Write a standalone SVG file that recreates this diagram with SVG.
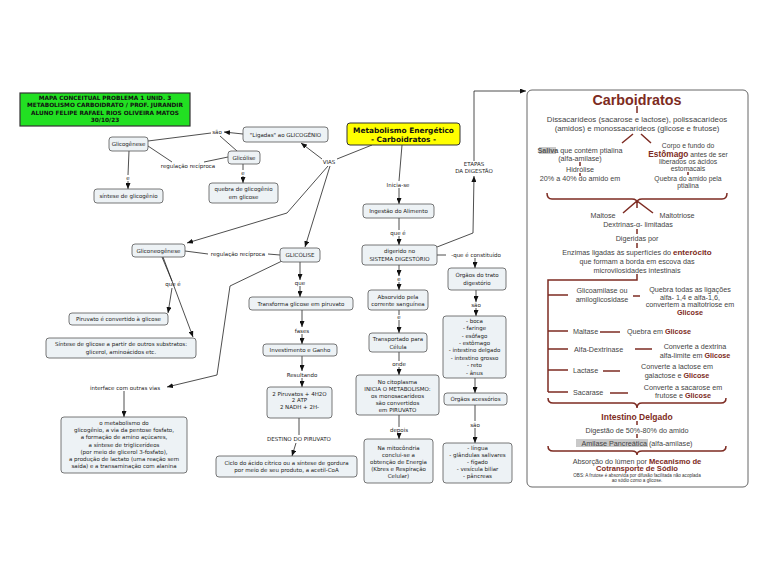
<svg xmlns="http://www.w3.org/2000/svg" width="768" height="578" viewBox="0 0 768 578">
<defs>
<marker id="ar" markerUnits="userSpaceOnUse" markerWidth="6" markerHeight="5" refX="6" refY="2.5" orient="auto"><path d="M0,0 L6,2.5 L0,5 z" fill="#111"/></marker>
<style>
.n{fill:#edf2f5;stroke:#555;stroke-width:0.8}
.t{font-family:"DejaVu Sans",Verdana,sans-serif;font-size:5.5px;fill:#222;text-anchor:middle}
.l{font-family:"DejaVu Sans",Verdana,sans-serif;font-size:5.5px;fill:#222;text-anchor:middle}
.c{stroke:#222;stroke-width:0.8;fill:none}
.ca{stroke:#222;stroke-width:0.8;fill:none;marker-end:url(#ar)}
.r{font-family:"Liberation Sans",Arial,sans-serif;font-size:7.2px;fill:#444;text-anchor:middle}
.rs{font-family:"Liberation Sans",Arial,sans-serif;font-size:7.2px;fill:#444;text-anchor:start}
.red{fill:#7d2b22;font-weight:bold}
.br{stroke:#7d2b22;stroke-width:1.5;fill:none}
</style>
</defs>
<rect width="768" height="578" fill="#fff"/>

<g id="title">
<rect x="20" y="93" width="170" height="33" fill="#22e022" stroke="#333" stroke-width="1.2"/>
<g font-family="DejaVu Sans,Verdana,sans-serif" font-size="5.8" font-weight="bold" fill="#111" text-anchor="middle">
<text x="105" y="100">MAPA CONCEITUAL PROBLEMA 1 UNID. 3</text>
<text x="105" y="107.3">METABOLISMO CARBOIDRATO / PROF. JURANDIR</text>
<text x="105" y="114.6">ALUNO FELIPE RAFAEL RIOS OLIVEIRA MATOS</text>
<text x="105" y="122">30/10/23</text>
</g>
</g>

<g id="connectors">
<path class="ca" d="M243,134 L224,132"/>
<path class="c" d="M211,133 L148,141"/>
<path class="c" d="M220,136 L237,151"/>
<path class="c" d="M148,146 L172,162"/>
<path class="c" d="M204,162 L228,157"/>
<path class="c" d="M129,151 L128,175"/>
<path class="ca" d="M128,181 L128,189"/>
<path class="c" d="M243,164 L243,170"/>
<path class="ca" d="M243,176 L243,183"/>
<path class="c" d="M372,145 L337,159"/>
<path class="ca" d="M322,159 L301,143"/>
<path class="ca" d="M328,166 L287,213 L187,243"/>
<path class="ca" d="M330,166 L305,247"/>
<path class="c" d="M402,145 L399,181"/>
<path class="ca" d="M399,188 L399,204"/>
<path class="c" d="M399,218 L399,230"/>
<path class="ca" d="M399,236 L399,245"/>
<path class="ca" d="M437,247 L473,233 L474,176"/>
<path class="ca" d="M474,161 L474,91 L526,91"/>
<path class="c" d="M437,255 L446,255"/>
<path class="ca" d="M475,258 L475,268"/>
<path class="ca" d="M476,290 L476,302"/>
<path class="ca" d="M476,308 L476,316"/>
<path class="ca" d="M475,378 L475,393"/>
<path class="c" d="M475,405 L475,421"/>
<path class="ca" d="M475,428 L475,443"/>
<path class="ca" d="M399,265 L399,276"/>
<path class="ca" d="M399,282 L399,290"/>
<path class="c" d="M399,310 L399,315"/>
<path class="ca" d="M399,320 L399,333"/>
<path class="c" d="M399,352 L399,361"/>
<path class="ca" d="M399,367 L399,375"/>
<path class="c" d="M399,415 L399,427"/>
<path class="ca" d="M399,433 L399,439"/>
<path class="ca" d="M300,262 L300,280"/>
<path class="ca" d="M300,286 L300,297"/>
<path class="ca" d="M302,310 L302,327"/>
<path class="ca" d="M302,334 L302,344"/>
<path class="ca" d="M302,356 L302,371"/>
<path class="ca" d="M302,378 L302,387"/>
<path class="c" d="M299,418 L299,435"/>
<path class="ca" d="M296,443 L292,456"/>
<path class="c" d="M185,251 L208,254"/>
<path class="c" d="M268,254 L280,255"/>
<path class="c" d="M162,257 L172,281"/>
<path class="ca" d="M172,288 L168,313"/>
<path class="ca" d="M163,257 L193,337"/>
<path class="ca" d="M282,261 L230,286 L217,375 L167,387"/>
<path class="ca" d="M124,391 L124,417"/>
</g>

<g id="labels">
<text class="l" x="217" y="134">são</text>
<text class="l" x="188" y="168">regulação recíproca</text>
<text class="l" x="128" y="180">e</text>
<text class="l" x="243" y="175">e</text>
<text class="l" x="329" y="164">VIAS</text>
<text class="l" x="398" y="187">Inicia-se</text>
<text class="l" x="398" y="235">que é</text>
<text class="l" x="474" y="166">ETAPAS</text>
<text class="l" x="474" y="173">DA DIGESTÃO</text>
<text class="l" x="476" y="257">-que é constituído</text>
<text class="l" x="399" y="281">e</text>
<text class="l" x="476" y="307">são</text>
<text class="l" x="399" y="319">e</text>
<text class="l" x="399" y="366">onde</text>
<text class="l" x="475" y="427">são</text>
<text class="l" x="399" y="432">depois</text>
<text class="l" x="300" y="285">que</text>
<text class="l" x="302" y="333">fases</text>
<text class="l" x="302" y="377">Resultando</text>
<text class="l" x="299" y="441">DESTINO DO PIRUVATO</text>
<text class="l" x="238" y="256">regulação recíproca</text>
<text class="l" x="173" y="286">que é</text>
<text class="l" x="125" y="390">interface com outras vias</text>
</g>

<g id="glicogenese"><rect class="n" x="109" y="137" width="39" height="14" rx="3"/><text class="t" x="128.5" y="146">Glicogênese</text></g>
<g id="ligadas"><rect class="n" x="243" y="127" width="85" height="15" rx="3"/><text class="t" x="285.5" y="136.5">"Ligadas" ao GLICOGÊNIO</text></g>
<g id="glicolise"><rect class="n" x="228" y="151" width="32" height="13" rx="3"/><text class="t" x="244" y="159.5">Glicólise</text></g>
<g id="sintese-glicogenio"><rect class="n" x="94" y="189" width="69" height="14" rx="3"/><text class="t" x="128.5" y="198">síntese de glicogênio</text></g>
<g id="quebra"><rect class="n" x="209" y="183" width="69" height="20" rx="3"/><text class="t" x="243.5" y="191">quebra de glicogênio</text><text class="t" x="243.5" y="198.5">em glicose</text></g>
<g id="metabolismo"><rect x="347" y="123" width="113" height="22" rx="3" fill="#ffff00" stroke="#333" stroke-width="1"/>
<g font-family="DejaVu Sans,Verdana,sans-serif" font-size="7.4" font-weight="bold" fill="#111" text-anchor="middle"><text x="403.5" y="133">Metabolismo Energético</text><text x="403.5" y="142">- Carboidratos -</text></g></g>
<g id="ingestao"><rect class="n" x="363" y="204" width="71" height="14" rx="3"/><text class="t" x="398.5" y="213">Ingestão do Alimento</text></g>
<g id="digerido"><rect class="n" x="362" y="245" width="75" height="20" rx="3"/><text class="t" x="399.5" y="253">digerido no</text><text class="t" x="399.5" y="260.5">SISTEMA DIGESTÓRIO</text></g>
<g id="orgaos-trato"><rect class="n" x="448" y="268" width="58" height="22" rx="3"/><text class="t" x="477" y="277">Órgãos do trato</text><text class="t" x="477" y="284.5">digestório</text></g>
<g id="lista-trato"><rect class="n" x="443" y="316" width="63" height="62" rx="3"/>
<text class="t" x="474.5" y="323">- boca</text><text class="t" x="474.5" y="330.4">- faringe</text><text class="t" x="474.5" y="337.7">- esôfago</text><text class="t" x="474.5" y="345.1">- estômago</text><text class="t" x="474.5" y="352.4">- intestino delgado</text><text class="t" x="474.5" y="359.8">- intestino grosso</text><text class="t" x="474.5" y="367.1">- reto</text><text class="t" x="474.5" y="374.5">- ânus</text></g>
<g id="acessorios"><rect class="n" x="444" y="393" width="63" height="12" rx="3"/><text class="t" x="475.5" y="401">Órgãos acessórios</text></g>
<g id="lista-acessorios"><rect class="n" x="443" y="443" width="69" height="40" rx="3"/>
<text class="t" x="477.5" y="450">- língua</text><text class="t" x="477.5" y="457">- glândulas salivares</text><text class="t" x="477.5" y="464">- fígado</text><text class="t" x="477.5" y="471">- vesícula biliar</text><text class="t" x="477.5" y="478">- pâncreas</text></g>
<g id="absorvido"><rect class="n" x="368" y="290" width="60" height="20" rx="3"/><text class="t" x="398" y="298.5">Absorvido pela</text><text class="t" x="398" y="306">corrente sanguínea</text></g>
<g id="transportado"><rect class="n" x="369" y="333" width="58" height="19" rx="3"/><text class="t" x="398" y="341">Transportado para</text><text class="t" x="398" y="348.5">Célula</text></g>
<g id="citoplasma"><rect class="n" x="356" y="375" width="83" height="40" rx="3"/>
<text class="t" x="397.5" y="383.5">No citoplasma</text><text class="t" x="397.5" y="390.5">INICIA O METABOLISMO:</text><text class="t" x="397.5" y="397.5">os monosacarídeos</text><text class="t" x="397.5" y="404.5">são convertidos</text><text class="t" x="397.5" y="411.5">em PIRUVATO</text></g>
<g id="mitocondria"><rect class="n" x="364" y="439" width="69" height="44" rx="3"/>
<text class="t" x="398.5" y="450">Na mitocôndria</text><text class="t" x="398.5" y="457">conclui-se a</text><text class="t" x="398.5" y="464">obtenção de Energia</text><text class="t" x="398.5" y="471">(Kbres e Respiração</text><text class="t" x="398.5" y="478">Celular)</text></g>
<g id="glicolise2"><rect class="n" x="280" y="248" width="40" height="14" rx="3"/><text class="t" x="300" y="257">GLICÓLISE</text></g>
<g id="transforma"><rect class="n" x="249" y="297" width="104" height="13" rx="3"/><text class="t" x="301" y="305.5">Transforma glicose em piruvato</text></g>
<g id="investimento"><rect class="n" x="263" y="344" width="74" height="12" rx="3"/><text class="t" x="300" y="352">Investimento e Ganho</text></g>
<g id="piruvatos"><rect class="n" x="267" y="387" width="65" height="31" rx="3"/><text class="t" x="299.5" y="395.5">2 Piruvatos + 4H2O</text><text class="t" x="299.5" y="402">2 ATP</text><text class="t" x="299.5" y="408.5">2 NADH + 2H-</text></g>
<g id="ciclo"><rect class="n" x="216" y="456" width="141" height="21" rx="3"/><text class="t" x="286.5" y="464.5">Ciclo do ácido cítrico ou a síntese de gordura</text><text class="t" x="286.5" y="472">por meio de seu produto, a acetil-CoA</text></g>
<g id="gliconeogenese"><rect class="n" x="132" y="244" width="53" height="13" rx="3"/><text class="t" x="158.5" y="252.5">Gliconeogênese</text></g>
<g id="piruvato-convertido"><rect class="n" x="69" y="313" width="99" height="12" rx="3"/><text class="t" x="118.5" y="321">Piruvato é convertido à glicose</text></g>
<g id="sintese-glicose"><rect class="n" x="46" y="338" width="150" height="20" rx="3"/><text class="t" x="121" y="346">Síntese de glicose a partir de outros substratos:</text><text class="t" x="121" y="353.5">glicerol, aminoácidos etc.</text></g>
<g id="interface"><rect class="n" x="61" y="417" width="126" height="56" rx="3"/>
<text class="t" x="124" y="425">o metabolismo do</text><text class="t" x="124" y="432.2">glicogênio, a via da pentose fosfato,</text><text class="t" x="124" y="439.4">a formação de amino açúcares,</text><text class="t" x="124" y="446.6">a síntese de triglicerídeos</text><text class="t" x="124" y="453.8">(por meio de glicerol 3-fosfato),</text><text class="t" x="124" y="461">a produção de lactato (uma reação sem</text><text class="t" x="124" y="468.2">saída) e a transaminação com alanina</text></g>

<g id="carboidratos">
<rect x="527" y="90" width="221" height="397" rx="5" fill="#fff" stroke="#666" stroke-width="1"/>
<text x="637" y="105" font-family="Liberation Sans,Arial,sans-serif" font-size="14.3" font-weight="bold" fill="#7d2b22" text-anchor="middle">Carboidratos</text>
<path class="br" d="M637,106 L637,113"/>
<text class="r" x="637" y="121.5" style="font-size:7.8px">Dissacarídeos (sacarose e lactose), polissacarídeos</text>
<text class="r" x="637" y="131" style="font-size:7.8px">(amidos) e monossacarídeos (glicose e frutose)</text>
<path class="br" d="M633,134 L622,143 M641,134 L651,143"/>
<rect x="539" y="147" width="17" height="7" fill="#c9c9c9"/>
<text class="r" x="580" y="153"><tspan font-weight="bold" fill="#555">Saliva</tspan> que contém ptialina</text>
<text class="r" x="580" y="160.5">(alfa-amilase)</text>
<path class="br" d="M580,162 L580,166"/>
<text class="r" x="580" y="171.5">Hidrólise</text>
<path class="br" d="M580,173 L580,176"/>
<text class="r" x="580" y="181">20% a 40% do amido em</text>
<text class="r" x="688" y="148" style="font-size:6.8px">Corpo e fundo do</text>
<text class="r" x="688" y="156.5" style="font-size:6.8px"><tspan class="red" style="font-size:8.3px">Estômago</tspan> antes de ser</text>
<text class="r" x="688" y="163.7" style="font-size:6.8px">liberados os ácidos</text>
<text class="r" x="688" y="170.5" style="font-size:6.8px">estomacais</text>
<path class="br" d="M688,172 L688,175"/>
<text class="r" x="688" y="180.5" style="font-size:6.8px">Quebra do amido pela</text>
<text class="r" x="688" y="187.5" style="font-size:6.8px">ptialina</text>
<path class="br" d="M547,193 Q547,199 552,199 L632,199 Q637,199 637,203 Q637,199 642,199 L722,199 Q727,199 727,193"/>
<path class="br" d="M623,213 L637,201 L653,213 M637,201 L637,208"/>
<text class="r" x="603" y="218">Maltose</text>
<text class="r" x="677" y="218">Maltotriose</text>
<text class="r" x="638" y="226.5">Dextrinas-α- limitadas</text>
<path class="br" d="M637,229 L637,234"/>
<text class="r" x="637" y="240.5">Digeridas por</text>
<path class="br" d="M637,243 L637,248"/>
<text class="r" x="637" y="255">Enzimas ligadas às superfícies do <tspan class="red" style="font-size:8px">enterócito</tspan></text>
<text class="r" x="637" y="264">que formam a borda em escova das</text>
<text class="r" x="637" y="273">microvilosidades intestinais</text>
<path class="br" d="M637,274 L637,280 L548,280 L548,392 M548,295 L568,295 M548,331 L568,331 M548,349 L568,349 M548,370 L568,370 M548,392 L568,392"/>
<text class="r" x="602" y="293">Glicoamilase ou</text>
<text class="r" x="602" y="301.5">amiloglicosidase</text>
<path class="br" d="M633,296 L640,296"/>
<text class="r" x="690" y="292">Quebra todas as ligações</text>
<text class="r" x="690" y="299.5">alfa- 1,4 e alfa-1,6,</text>
<text class="r" x="690" y="307">convertem a maltotriose em</text>
<text class="r red" x="690" y="315">Glicose</text>
<text class="rs" x="573" y="333.5">Maltase</text>
<path class="br" d="M600,332 L620,332"/>
<text class="rs" x="627" y="333.5">Quebra em <tspan class="red">Glicose</tspan></text>
<text class="rs" x="574" y="351.5">Alfa-Dextrinase</text>
<path class="br" d="M635,349 L652,349"/>
<text class="r" x="695" y="349">Converte a dextrina</text>
<text class="r" x="695" y="358">alfa-limite em <tspan class="red">Glicose</tspan></text>
<text class="rs" x="573" y="372.5">Lactase</text>
<path class="br" d="M603,371 L620,371"/>
<text class="r" x="677" y="369">Converte a lactose em</text>
<text class="r" x="677" y="378">galactose e <tspan class="red">Glicose</tspan></text>
<text class="rs" x="573" y="394.5">Sacarase</text>
<path class="br" d="M610,393 L628,393"/>
<text class="r" x="683" y="390">Converte a sacarose em</text>
<text class="r" x="683" y="398">frutose e <tspan class="red">Glicose</tspan></text>
<path class="br" d="M548,398 Q548,403 553,403 L632,403 Q637,403 637,408 Q637,403 642,403 L721,403 Q726,403 726,398"/>
<text class="r red" x="637" y="420" style="font-size:8.5px">Intestino Delgado</text>
<path class="br" d="M637,421 L637,425"/>
<text class="r" x="637" y="432.5">Digestão de 50%-80% do amido</text>
<path class="br" d="M637,434 L637,438"/>
<rect x="576" y="439" width="72" height="8" fill="#c9c9c9"/>
<text class="r" x="637" y="445.5">Amilase Pancreática (alfa-amilase)</text>
<path class="br" d="M548,446 Q548,451 553,451 L632,451 Q637,451 637,455 Q637,451 642,451 L721,451 Q726,451 726,446"/>
<text class="r" x="637" y="463.5">Absorção do lúmen por <tspan class="red" style="font-size:7.6px">Mecanismo de</tspan></text>
<text class="r red" x="637" y="471" style="font-size:7.6px">Cotransporte de Sódio</text>
<text class="r" x="637" y="476.8" style="font-size:4.6px;fill:#333">OBS: A frutose é absorvida por difusão facilitada não acoplada</text>
<text class="r" x="637" y="481.5" style="font-size:4.6px;fill:#333">ao sódio como a glicose.</text>
</g>
</svg>
